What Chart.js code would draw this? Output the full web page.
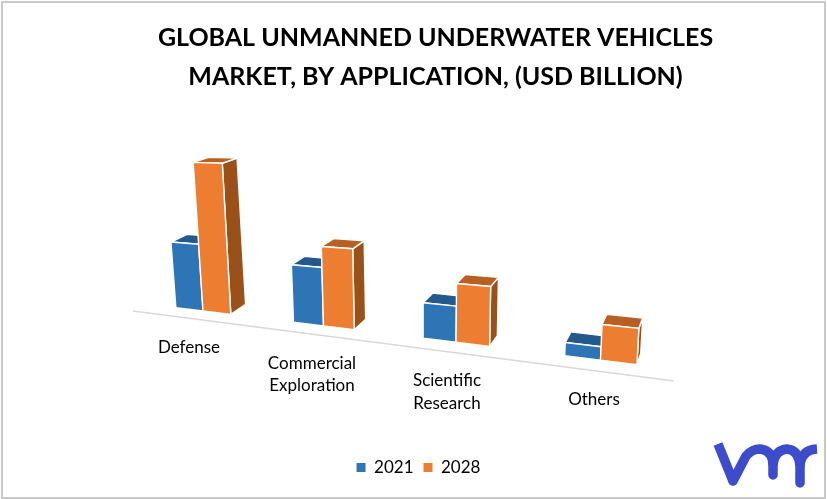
<!DOCTYPE html>
<html>
<head>
<meta charset="utf-8">
<title>Global Unmanned Underwater Vehicles Market</title>
<script src="https://cdn.jsdelivr.net/npm/chart.js@4"></script>
<style>
    html, body { margin: 0; padding: 0; background: #fff; }
    #wrap { position: relative; width: 827px; height: 499px; overflow: hidden; }
    #frame { position: absolute; left: 1px; top: 1px; width: 821px; height: 494px; border: 2px solid #c9c9c9; }
    #logo { position: absolute; left: 0; top: 0; }
    canvas { position: absolute; left: 0; top: 0; }
</style>
</head>
<body>
<div id="wrap">
    <canvas id="chart" width="827" height="499"></canvas>
    <div id="frame"></div>
    <svg id="logo" width="827" height="499" fill="none" stroke="#3d4ccb" stroke-width="9.5">
        <path d="M718 444 L733 481" />
        <path d="M733 481 L746 456 Q752 449 760 449 Q772 450 773 464 L773 475" stroke-linejoin="round" stroke-linecap="round"/>
        <path d="M773 464 Q775 450 787 449 Q799 450 800 466 L800 483" stroke-linecap="round"/>
        <path d="M800 466 Q801 450 817 449" />
    </svg>
</div>
<script>
const categories = ['Defense', ['Commercial', 'Exploration'], ['Scientific', 'Research'], 'Others'];
const legendYears = ['2021', '2028'];
const values2021 = [0.75, 0.61, 0.35, 0.12];
const values2028 = [1.67, 0.83, 0.57, 0.32];

const frontColors = ['#2e75b6', '#ed7d31'];
const topColors = ['#225a8c', '#b85f22'];
const sideColors = ['#1f4e79', '#9a5019'];
const FONT = "Lato, 'Open Sans', sans-serif";
const PX_PER_USD = 100;

// Fake 3D view: t = category position, h = bar height in px, d = 0 front / 1 back
function project(t, h, d) {
    const fx = 203 + 114.5 * t + 6 * t * t;
    const x = fx + 0.00027 * (fx - 420) * h;
    const y = 311 + 0.1235 * (fx - 203) - h * (1 + 0.00056 * (fx - 400));
    const dx = 21 - 0.027 * fx;
    const dy = 10.5 - 0.029 * h + 0.003 * (fx - 400);
    return { x: x + d * dx, y: y - d * dy };
}

function axisY(x) {
    return 311 + 0.1294 * (x - 133);
}

function face(ctx, points, color) {
    ctx.beginPath();
    points.forEach((p, i) => i ? ctx.lineTo(p.x, p.y) : ctx.moveTo(p.x, p.y));
    ctx.closePath();
    ctx.fillStyle = color;
    ctx.fill();
    ctx.strokeStyle = '#ffffff';
    ctx.lineWidth = 1.4;
    ctx.lineJoin = 'round';
    ctx.stroke();
}

function drawAxis(chart) {
    const ctx = chart.ctx;
    ctx.save();
    ctx.strokeStyle = '#d9d9d9';
    ctx.lineWidth = 1.5;
    ctx.beginPath();
    ctx.moveTo(133, axisY(133));
    ctx.lineTo(674, axisY(674));
    ctx.stroke();

    ctx.fillStyle = '#000000';
    ctx.font = '17px ' + FONT;
    ctx.textAlign = 'center';
    ctx.textBaseline = 'middle';
    chart.scales.x.getLabels().forEach((label, i) => {
        const cx = project(i, 0, 0).x - 14 + 2.5 * i;
        const lines = Array.isArray(label) ? label : [label];
        lines.forEach((line, n) => ctx.fillText(line, cx, axisY(cx) + 29 + n * 22.5));
    });
    ctx.restore();
}

const view3d = {
    id: 'view3d',
    // bars are painted here, 2021 first so that 2028 overlaps it
    beforeDatasetsDraw(chart) {
        const ctx = chart.ctx;
        const xs = chart.scales.x;
        const ys = chart.scales.y;
        const step = xs.getPixelForValue(1) - xs.getPixelForValue(0);
        const toT = px => (px - xs.getPixelForValue(0)) / step;

        drawAxis(chart);
        ctx.save();
        chart.getSortedVisibleDatasetMetas().forEach(meta => {
            const di = meta.index;
            meta.data.forEach(el => {
                const t0 = toT(el.x - el.width / 2);
                const t1 = toT(el.x + el.width / 2);
                const h = ys.getValueForPixel(el.y) * PX_PER_USD;
                face(ctx, [project(t1, 0, 0), project(t1, 0, 1), project(t1, h, 1), project(t1, h, 0)], sideColors[di]);
                face(ctx, [project(t0, h, 0), project(t1, h, 0), project(t1, h, 1), project(t0, h, 1)], topColors[di]);
                face(ctx, [project(t0, 0, 0), project(t1, 0, 0), project(t1, h, 0), project(t0, h, 0)], frontColors[di]);
            });
        });
        ctx.restore();
        return false;
    }
};

new Chart(document.getElementById('chart').getContext('2d'), {
    type: 'bar',
    data: {
        labels: categories,
        datasets: [
            { label: legendYears[0], data: values2021, backgroundColor: frontColors[0] },
            { label: legendYears[1], data: values2028, backgroundColor: frontColors[1] }
        ]
    },
    plugins: [view3d],
    options: {
        responsive: false,
        animation: false,
        layout: { padding: { left: 10, bottom: 13 } },
        datasets: { bar: { categoryPercentage: 0.48, barPercentage: 1 } },
        plugins: {
            tooltip: { enabled: false },
            title: {
                display: true,
                fullSize: false,
                text: ['GLOBAL UNMANNED UNDERWATER VEHICLES', 'MARKET, BY APPLICATION, (USD BILLION)'],
                color: '#000000',
                font: { family: FONT, size: 25, weight: 'bold', lineHeight: 1.55 },
                padding: { top: 19, bottom: 10 }
            },
            legend: {
                position: 'bottom',
                labels: {
                    color: '#000000',
                    boxWidth: 9,
                    boxHeight: 9,
                    padding: 10,
                    font: { family: FONT, size: 17 }
                }
            }
        },
        scales: {
            x: { type: 'category', display: false },
            y: {
                min: 0,
                max: 3,
                grid: { display: false },
                border: { display: false },
                ticks: { display: false },
                afterFit(scale) { scale.width = 34; }
            }
        }
    }
});
</script>
</body>
</html>
